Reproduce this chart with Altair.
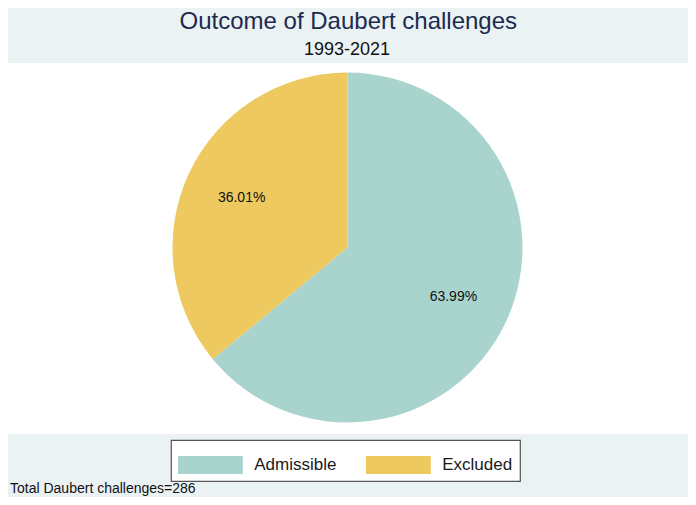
import altair as alt
import pandas as pd

# ---- data ----
categories = ["Admissible", "Excluded"]
counts = [183, 103]
slice_order = [1, 2]
colors = ["#A9D4CE", "#EDC95F"]

title_text = ["Outcome of Daubert challenges"]
subtitle_text = ["1993-2021"]
note_text = ["Total Daubert challenges=286"]

FONT = "Liberation Sans"

pie_df = pd.DataFrame({"outcome": categories, "n": counts, "ord": slice_order})

base = alt.Chart(pie_df).transform_joinaggregate(
    total="sum(n)"
).transform_calculate(
    pct="datum.n / datum.total"
)

CX, CY = 339.5, 184.5

pie = base.mark_arc(outerRadius=175).encode(
    theta=alt.Theta("n:Q", stack=True),
    order=alt.Order("ord:Q"),
    color=alt.Color(
        "outcome:N",
        scale=alt.Scale(domain=categories, range=colors),
        legend=alt.Legend(
            title=None,
            orient="none",
            legendX=163,
            legendY=377,
            direction="horizontal",
            symbolType="M-1.8,-0.5H1.8V0.5H-1.8Z",
            symbolSize=1296,
            symbolStrokeWidth=0,
            symbolOpacity=1,
            symbolOffset=14.4,
            labelOffset=25.8,
            labelFontSize=17,
            labelFont=FONT,
            labelColor="#1a1a1a",
            columnPadding=29,
        ),
    ),
    x=alt.value(CX),
    y=alt.value(CY),
)

labels = base.mark_text(radius=117, fontSize=14, font=FONT, color="#111111").encode(
    theta=alt.Theta("n:Q", stack=True),
    order=alt.Order("ord:Q"),
    text=alt.Text("pct:Q", format=".2%"),
    x=alt.value(CX),
    y=alt.value(CY),
)

title = alt.Chart(pd.DataFrame({"t": title_text})).mark_text(
    fontSize=24, font=FONT, color="#1C2A4E", align="center", baseline="alphabetic"
).encode(text="t:N", x=alt.value(340.3), y=alt.value(-34.5))

subtitle = alt.Chart(pd.DataFrame({"t": subtitle_text})).mark_text(
    fontSize=18, font=FONT, color="#111111", align="center", baseline="alphabetic"
).encode(text="t:N", x=alt.value(339), y=alt.value(-8))

note = alt.Chart(pd.DataFrame({"t": note_text})).mark_text(
    fontSize=14, font=FONT, color="#111111", align="left", baseline="alphabetic"
).encode(text="t:N", x=alt.value(2), y=alt.value(429.5))

chart = alt.layer(pie, labels, title, subtitle, note).properties(
    width=680,
    height=371,
    autosize=alt.AutoSizeParams(type="none"),
    padding={"left": 0, "top": 55, "right": 0, "bottom": 63},
    background="#EAF2F3",
).configure_view(
    fill="white", strokeWidth=0
).configure_legend(
    padding=7,
    strokeColor="#555555",
    strokeWidth=1.2,
    fillColor="white",
)

chart.save("out.html", embed_options={"renderer": "svg", "actions": False})
